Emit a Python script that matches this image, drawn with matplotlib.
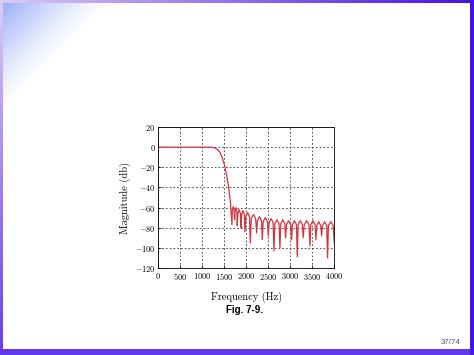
import numpy as np
import matplotlib
matplotlib.use("Agg")
import matplotlib.pyplot as plt

plt.rcParams['font.family'] = 'serif'
plt.rcParams['font.serif'] = ['cmr10']
plt.rcParams['mathtext.fontset'] = 'cm'
plt.rcParams['axes.formatter.use_mathtext'] = True

# magnitude response (Hz, dB)
freq = [0, 500, 1000, 1200, 1250, 1300, 1350, 1400, 1450, 1500, 1550, 1600, 1640,
        1674, 1683, 1704, 1726, 1735, 1744, 1765, 1786, 1795, 1808, 1837, 1866,
        1879, 1893, 1925, 1956, 1970, 1988, 2030, 2073, 2091, 2113, 2163, 2213,
        2235, 2254, 2300, 2345, 2364, 2384, 2432, 2480, 2500, 2519, 2565, 2610,
        2629, 2649, 2697, 2745, 2765, 2784, 2830, 2875, 2894, 2914, 2962, 3010,
        3030, 3049, 3095, 3140, 3159, 3179, 3227, 3275, 3295, 3318, 3371, 3424,
        3447, 3467, 3515, 3563, 3583, 3602, 3648, 3693, 3712, 3732, 3780, 3828,
        3848, 3866, 3920, 3975, 4000]
mag_db = [0, 0, 0, 0, -0.3, -1, -2.5, -5, -10, -17, -27, -40, -55,
          -77, -63, -59, -63, -72, -64, -60, -64, -78, -66, -62, -66,
          -80, -67, -63, -67, -84, -69, -65, -69, -95, -71, -67, -71,
          -85, -73, -69, -73, -92, -74, -70, -74, -88, -75, -71, -75,
          -103, -76, -72, -76, -100, -76, -72, -76, -90, -77, -73, -77,
          -92, -77, -73, -77, -109, -77, -73, -77, -90, -77, -73, -77,
          -98, -77, -73, -77, -92, -78, -74, -78, -88, -78, -74, -78,
          -110, -78, -74, -78, -95]

x_ticks = [0, 500, 1000, 1500, 2000, 2500, 3000, 3500, 4000]
y_ticks = [20, 0, -20, -40, -60, -80, -100, -120]

W, H = 474, 355
fig = plt.figure(figsize=(W / 100, H / 100), dpi=100)

# slide background: white page, blue glow in the corner, purple frame
yy, xx = np.mgrid[0:H, 0:W].astype(float)
img = np.ones((H, W, 3))
glow = np.clip(1 - (xx + yy) / 115.0, 0, 1) ** 1.3
for c, v in enumerate((0.58, 0.66, 0.97)):
    img[..., c] = 1 - glow * (1 - v)
light = np.array([0.86, 0.80, 0.96])
top_end = np.array([0.27, 0.06, 0.88])
left_end = np.array([0.40, 0.24, 0.92])
tx = (xx[:3, :] / W)[..., None]
img[:3, :] = light * (1 - tx) + top_end * tx
ly = (yy[:, :3] / H)[..., None]
img[:, :3] = light * (1 - ly) + left_end * ly
img[:, 470:] = [0.28, 0.08, 0.87]
img[349:, :] = [0.38, 0.22, 0.93]
img[349:, 470:] = [0.30, 0.10, 0.88]

bg = fig.add_axes([0, 0, 1, 1], zorder=0)
bg.imshow(img, aspect='auto', interpolation='nearest')
bg.axis('off')

ax = fig.add_axes([0.334, 0.2451, 0.3712, 0.397], zorder=1)
ax.plot(freq, mag_db, color='#d8333d', lw=0.9)
ax.set_xlim(0, 4000)
ax.set_ylim(-120, 20)
ax.set_xticks(x_ticks)
ax.set_yticks(y_ticks)
ax.grid(True, color='#333333', linestyle=(0, (2, 2.5)), linewidth=0.6)
ax.tick_params(labelsize=6, length=2, width=0.5, direction='in', pad=2)
for s in ax.spines.values():
    s.set_linewidth(0.6)
ax.set_xlabel('Frequency (Hz)', fontsize=7.5, labelpad=7)
ax.set_ylabel('Magnitude (db)', fontsize=7.5, labelpad=3)

fig.text(0.515, 0.128, 'Fig. 7-9.', family='Liberation Sans', weight='bold',
         fontsize=7, ha='center', va='center')
fig.text(0.951, 0.036, '37/74', family='Liberation Sans', fontsize=5.7,
         color='#4a4a88', ha='center', va='center')

fig.savefig('out.png', dpi=100)
